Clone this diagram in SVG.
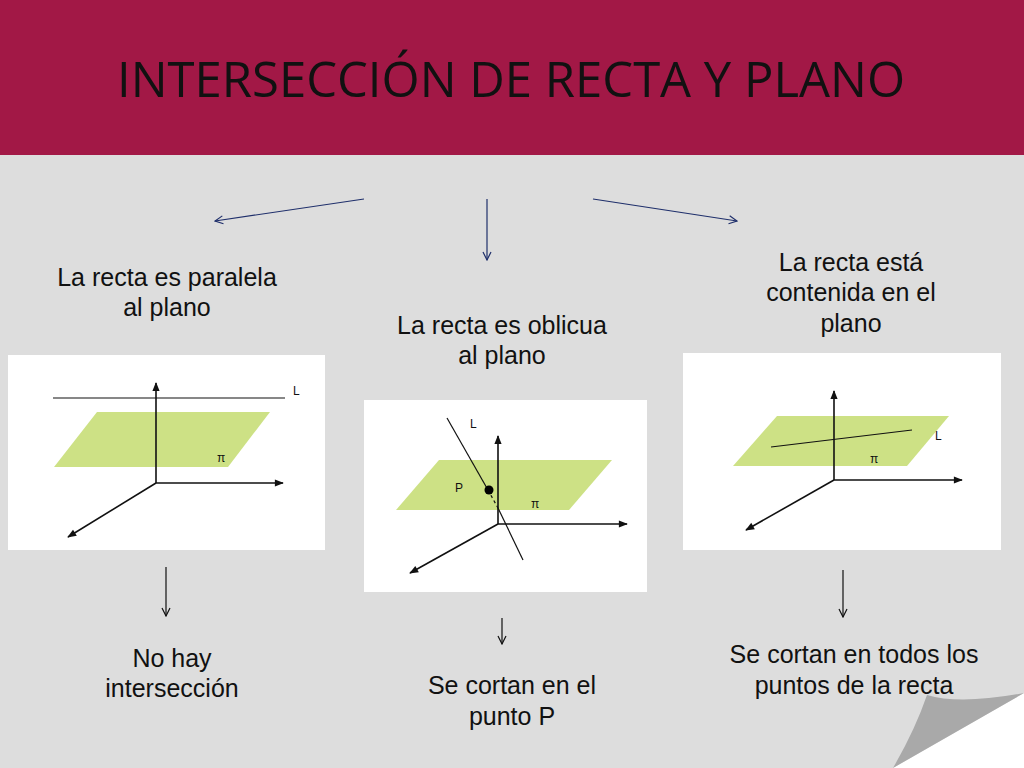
<svg xmlns="http://www.w3.org/2000/svg" width="1024" height="768" viewBox="0 0 1024 768">
<defs>
<marker id="open" viewBox="0 0 10 10" refX="9" refY="5" markerWidth="10" markerHeight="10" markerUnits="userSpaceOnUse" orient="auto"><path d="M1,1 L9,5 L1,9" fill="none" stroke="context-stroke" stroke-width="1.2"/></marker>
<marker id="solid" viewBox="0 0 10 10" refX="9" refY="5" markerWidth="11" markerHeight="9" markerUnits="userSpaceOnUse" orient="auto"><path d="M0,1 L10,5 L0,9 Z" fill="#111"/></marker>
<style>
.t{font-family:"Liberation Sans",Arial,sans-serif;font-size:25px;fill:#111;text-anchor:middle}
.s{font-family:"Liberation Sans",Arial,sans-serif;font-size:12px;fill:#111}
.ax{stroke:#111;stroke-width:1.6;fill:none;marker-end:url(#solid)}
.pl{fill:#CDE185}
.nv{stroke:#1F2F6B;stroke-width:1.2;fill:none;marker-end:url(#open)}
.bk{stroke:#111;stroke-width:1.2;fill:none;marker-end:url(#open)}
</style>
</defs>
<rect width="1024" height="768" fill="#DDDDDD"/>
<rect width="1024" height="155" fill="#A21846"/>
<text x="511" y="97" font-family="'Open Sans','Liberation Sans',sans-serif" font-size="49" text-anchor="middle" fill="#111">INTERSECCIÓN DE RECTA Y PLANO</text>
<path d="M1024,693 L893,768 L1024,768 Z" fill="#fff"/>
<path d="M927,695 Q960,705 1024,693 L893,768 Q915,730 927,695 Z" fill="#A9A9A9"/>
<g id="connectors">
<line class="nv" x1="364" y1="199" x2="215" y2="221"/>
<line class="nv" x1="487" y1="199" x2="487" y2="260"/>
<line class="nv" x1="593" y1="199" x2="737" y2="221"/>
<line class="bk" x1="166" y1="567" x2="166" y2="616"/>
<line class="bk" x1="502" y1="618" x2="502" y2="644"/>
<line class="bk" x1="843" y1="570" x2="843" y2="617"/>
</g>
<g id="n1">
<text class="t" x="167" y="286">La recta es paralela</text>
<text class="t" x="167" y="316">al plano</text>
<rect x="8" y="355" width="317" height="195" fill="#fff"/>
<polygon class="pl" points="97,412 270,412 228,467 54,467"/>
<line x1="53" y1="398" x2="285" y2="398" stroke="#111" stroke-width="1.2"/>
<text class="s" x="293" y="395">L</text>
<text class="s" x="217" y="462" font-family="'DejaVu Serif',serif">π</text>
<line class="ax" x1="156" y1="483" x2="156" y2="383"/>
<line class="ax" x1="156" y1="483" x2="283" y2="483"/>
<line class="ax" x1="156" y1="483" x2="68" y2="537"/>
</g>
<g id="n2">
<text class="t" x="502" y="334">La recta es oblicua</text>
<text class="t" x="502" y="364">al plano</text>
<rect x="364" y="400" width="283" height="192" fill="#fff"/>
<polygon class="pl" points="439,460 612,460 569,510 396,510"/>
<line x1="447" y1="418" x2="488" y2="490" stroke="#111" stroke-width="1.2"/>
<line x1="488" y1="490" x2="498" y2="508" stroke="#111" stroke-width="1.2" stroke-dasharray="3,3"/>
<line x1="498" y1="508" x2="523" y2="560" stroke="#111" stroke-width="1.2"/>
<circle cx="489" cy="490" r="4.5" fill="#000"/>
<text class="s" x="455" y="492" font-size="14">P</text>
<text class="s" x="470" y="428">L</text>
<text class="s" x="531" y="508" font-family="'DejaVu Serif',serif">π</text>
<line class="ax" x1="498" y1="524" x2="498" y2="436"/>
<line class="ax" x1="498" y1="524" x2="627" y2="524"/>
<line class="ax" x1="498" y1="524" x2="410" y2="573"/>
</g>
<g id="n3">
<text class="t" x="851" y="271">La recta está</text>
<text class="t" x="851" y="301">contenida en el</text>
<text class="t" x="851" y="332">plano</text>
<rect x="683" y="353" width="318" height="197" fill="#fff"/>
<polygon class="pl" points="777,416 949,416 907,466 733,466"/>
<line x1="771" y1="447" x2="912" y2="430" stroke="#111" stroke-width="1.2"/>
<text class="s" x="935" y="440">L</text>
<text class="s" x="870" y="463" font-family="'DejaVu Serif',serif">π</text>
<line class="ax" x1="834" y1="480" x2="834" y2="391"/>
<line class="ax" x1="834" y1="480" x2="962" y2="480"/>
<line class="ax" x1="834" y1="480" x2="746" y2="530"/>
</g>
<g id="r1"><text class="t" x="172" y="667">No hay</text><text class="t" x="172" y="697">intersección</text></g>
<g id="r2"><text class="t" x="512" y="694">Se cortan en el</text><text class="t" x="512" y="725">punto P</text></g>
<g id="r3"><text class="t" x="854" y="663">Se cortan en todos los</text><text class="t" x="854" y="694">puntos de la recta</text></g>
</svg>
